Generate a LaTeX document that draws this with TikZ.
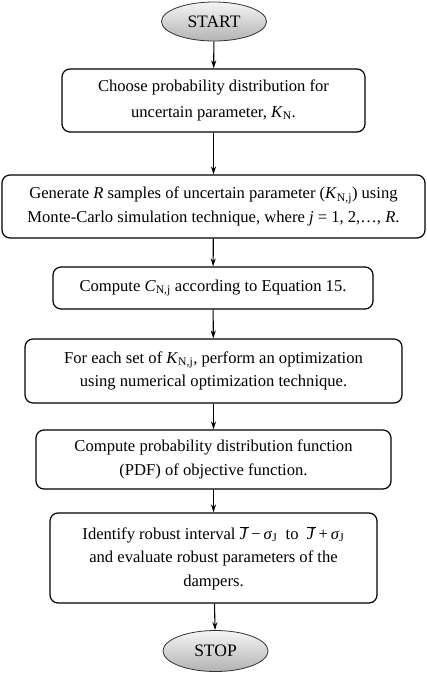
\documentclass[tikz,border=0pt]{standalone}
\usepackage{fontspec}
\setmainfont{Liberation Serif}
\usetikzlibrary{arrows.meta,shapes.geometric}
\newcommand{\vK}{\textit{K}}
\newcommand{\sbs}[1]{\textsubscript{#1}}
\newcommand{\Jbar}{\ensuremath{\overline{\mbox{\textit{J}\kern1pt}}}}
\begin{document}
\begin{tikzpicture}[x=1pt,y=-1pt,
  every node/.style={font=\fontsize{16.6}{23.5}\selectfont},
  stepbox/.style={draw, line width=1.2pt, rounded corners=8pt, align=center, inner sep=0pt},
  term/.style={ellipse, draw=black!80, line width=0.8pt, top color=gray!8, bottom color=gray!60, inner sep=0pt, font=\fontsize{17.5}{20}\selectfont},
  arr/.style={line width=1.1pt, -{Stealth[length=8pt,width=5pt]}}]
\useasboundingbox (0,0) rectangle (427,673);
\node[term, minimum width=105pt, minimum height=39pt] (start) at (214,21.5) {START};
\node[stepbox, minimum width=303pt, minimum height=63pt] (b1) at (213.5,100.5)
  {Choose probability distribution for\\[2pt] uncertain parameter, \vK\sbs{N}.};
\node[stepbox, minimum width=423pt, minimum height=63pt] (b2) at (213.5,206.5)
  {Generate \textit{R} samples of uncertain parameter (\vK\sbs{N,j}) using\\ Monte-Carlo simulation technique, where \textit{j} = 1, 2,…, \textit{R}.};
\node[stepbox, minimum width=320pt, minimum height=42pt] (b3) at (213,288)
  {Compute \textit{C}\sbs{N,j} according to Equation 15.};
\node[stepbox, minimum width=377pt, minimum height=64pt] (b4) at (213.5,371)
  {For each set of \vK\sbs{N,j}, perform an optimization\\ using numerical optimization technique.};
\node[stepbox, minimum width=355pt, minimum height=59pt] (b5) at (213.5,459.5)
  {Compute probability distribution function\\ (PDF) of objective function.};
\node[stepbox, minimum width=327pt, minimum height=90pt] (b6) at (213.5,558)
  {Identify robust interval \Jbar\,−\,\textit{σ}\sbs{J}\ \ to\ \ \Jbar\,+\,\textit{σ}\sbs{J}\\ and evaluate robust parameters of the\\ dampers.};
\node[term, minimum width=105pt, minimum height=41pt] (stop) at (215.5,651) {STOP};
\draw[arr] (start) -- (b1);
\draw[arr] (b1) -- (b2);
\draw[arr] (b2) -- (b3);
\draw[arr] (b3) -- (b4);
\draw[arr] (b4) -- (b5);
\draw[arr] (b5) -- (b6);
\draw[arr] (b6) -- (stop);
\end{tikzpicture}
\end{document}
